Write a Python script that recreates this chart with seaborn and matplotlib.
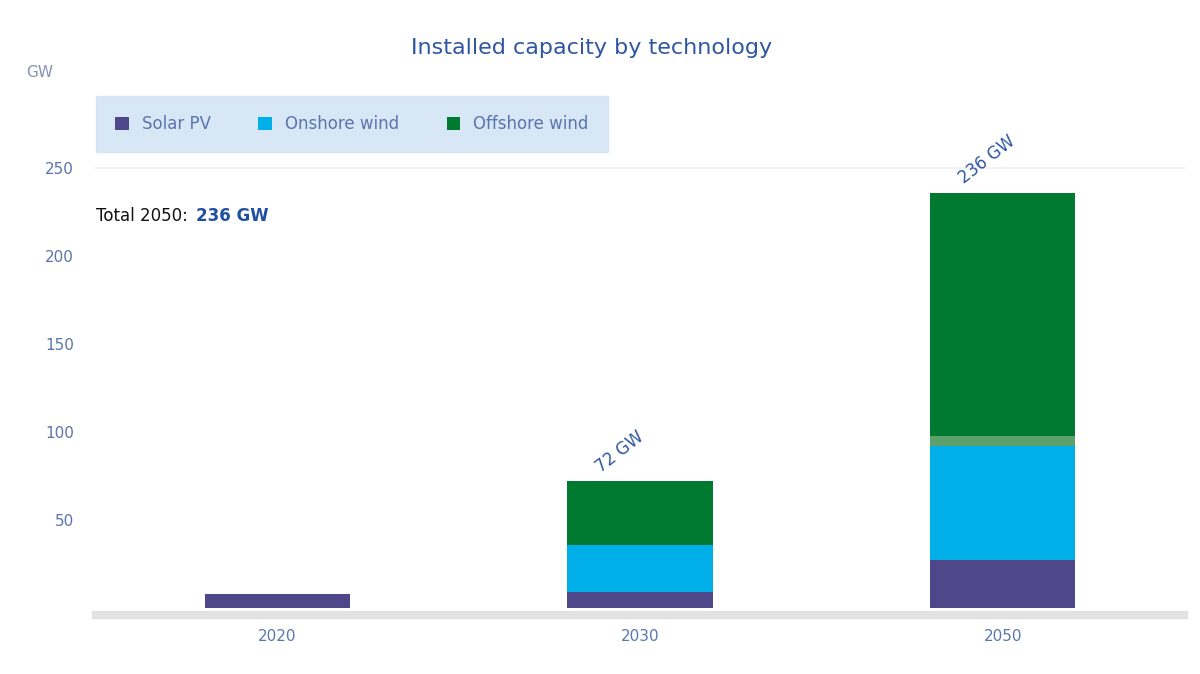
import matplotlib
matplotlib.use('Agg')
import matplotlib.pyplot as plt
import numpy as np
import pandas as pd
import seaborn as sns

sns.set_style('white')
plt.rcParams['font.family'] = ['DejaVu Sans']

# Datos
years = ['2020', '2030', '2050']
series = ['Solar PV', 'Onshore wind', 'Other', 'Offshore wind']
solar = [8, 9, 27]
onshore = [0, 27, 65]
other = [0, 0, 6]
offshore = [0, 36, 138]
totals_txt = ['', '72 GW', '236 GW']
colors = ['#4e4789', '#00aee8', '#5ca06c', '#007a30']
yticks = [0, 50, 100, 150, 200, 250]

df = pd.DataFrame({'year': years, 'Solar PV': solar, 'Onshore wind': onshore,
                   'Other': other, 'Offshore wind': offshore})

fig = plt.figure(figsize=(12, 6.74), dpi=100)
ax = fig.add_axes([0.08, 0.0979, 0.9067, 0.6528])

bottom = np.zeros(len(years))
for name, col in zip(series, colors):
    sns.barplot(data=df, x='year', y=name, color=col, bottom=bottom,
                width=0.4, ax=ax, label=name, saturation=1, linewidth=0)
    bottom = bottom + df[name].values

# etiquetas de totales (giradas)
for i, t in enumerate(totals_txt):
    if t:
        ax.text(i - 0.10, bottom[i] + 3, t, ha='left', va='bottom',
                rotation=38, rotation_mode='anchor',
                fontsize=12, color='#2f56a0')

ax.set_ylim(yticks[0], yticks[-1])
ax.set_yticks(yticks[1:])
ax.set_xlabel('')
ax.set_ylabel('')
ax.tick_params(axis='y', length=0, pad=16, labelsize=11, labelcolor='#5a74ac')
ax.tick_params(axis='x', length=0, pad=10, labelsize=11, labelcolor='#5a78b0')

for s in ['left', 'right']:
    ax.spines[s].set_visible(False)
ax.spines['top'].set_color('#f4f4f4')
ax.spines['top'].set_linewidth(1.5)
ax.spines['bottom'].set_color('#e2e2e2')
ax.spines['bottom'].set_linewidth(6)
ax.spines['bottom'].set_position(('outward', 5))

# leyenda
handles, labels = ax.get_legend_handles_labels()
keep = [0, 1, 3]
leg = ax.legend([handles[k] for k in keep], [labels[k] for k in keep],
                loc='lower left', bbox_to_anchor=(0, 1.036, 512 / 1088, 0.127),
                mode='expand', ncol=3, frameon=True, fontsize=12,
                borderaxespad=0, handlelength=0.8, handleheight=0.8,
                borderpad=1.15, labelcolor='#5a74ac')
leg.get_frame().set_facecolor('#cfe2f3')
leg.get_frame().set_edgecolor('#cfe2f3')
leg.get_frame().set_boxstyle('square', pad=0)

ax.text(0.0, 0.891, 'Total 2050:', transform=ax.transAxes, fontsize=12,
        color='#111111', va='center')
ax.text(0.092, 0.891, '236 GW', transform=ax.transAxes, fontsize=12,
        color='#1f4fa0', va='center', fontweight='bold')

fig.text(0.493, 0.929, 'Installed capacity by technology', ha='center',
         va='center', fontsize=16, color='#2f56a0')
fig.text(0.033, 0.893, 'GW', ha='center', va='center', fontsize=11,
         color='#8890b8')

fig.savefig('out.png', dpi=100)
